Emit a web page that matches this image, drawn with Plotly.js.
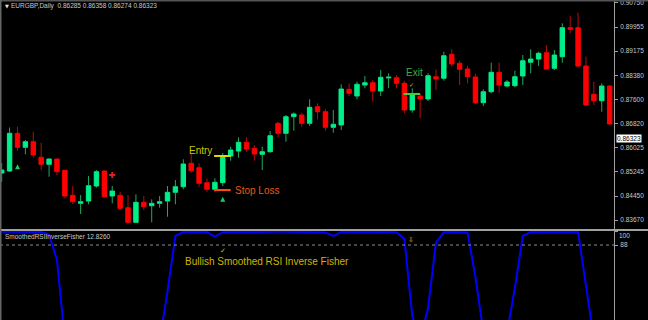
<!DOCTYPE html>
<html><head><meta charset="utf-8">
<script src="https://cdn.plot.ly/plotly-3.0.1.min.js"></script>
<style>html,body{margin:0;padding:0;background:#000;overflow:hidden}#chart{width:648px;height:320px}</style>
</head><body><div id="chart"></div>
<script>
// ---- data (EURGBP Daily) ----
const openP = [0.85202,0.85267,0.86495,0.86039,0.86221,0.85713,0.85485,0.85658,0.85290,0.84475,
0.84215,0.84289,0.84778,0.85267,0.84452,0.84475,0.84071,0.83596,0.84247,0.84136,
0.84215,0.84289,0.84573,0.84755,0.85518,0.85374,0.84886,0.84671,0.84886,0.85756,
0.85918,0.86202,0.86006,0.85811,0.85896,0.86821,0.86495,0.87036,0.87091,0.86821,
0.87362,0.87199,0.86691,0.86766,0.87929,0.87710,0.88069,0.88144,0.87873,0.88300,
0.88306,0.88124,0.87254,0.87710,0.87613,0.88339,0.88287,0.89069,0.88776,0.88590,
0.88329,0.87492,0.87850,0.88483,0.88036,0.88046,0.88362,0.88808,0.88916,0.89121,
0.88613,0.88991,0.89936,0.89936,0.88688,0.87766,0.87557,0.88036];
const highP = [0.85528,0.86684,0.86710,0.86277,0.86547,0.86189,0.85681,0.85674,0.85299,0.84778,
0.84485,0.85104,0.85299,0.85283,0.84778,0.84592,0.84485,0.84508,0.84452,0.84345,
0.84452,0.84778,0.84974,0.85648,0.85821,0.85518,0.85029,0.85029,0.85853,0.86059,
0.86365,0.86365,0.86114,0.86059,0.86570,0.86873,0.87091,0.87179,0.87166,0.87603,
0.87473,0.87277,0.87254,0.88092,0.88124,0.88176,0.88362,0.88232,0.88557,0.88450,
0.88394,0.88199,0.87961,0.87775,0.88450,0.88580,0.89154,0.89232,0.88860,0.88688,
0.88427,0.87929,0.88795,0.88795,0.88232,0.88535,0.89046,0.89232,0.89154,0.89372,
0.89209,0.90079,0.90327,0.90424,0.88991,0.88176,0.88124,0.88069];
const lowP = [0.84908,0.85234,0.85928,0.85811,0.85700,0.85299,0.85081,0.85137,0.84377,0.84192,
0.83866,0.84182,0.84723,0.84397,0.84215,0.83996,0.83563,0.83582,0.83996,0.83596,
0.84071,0.83778,0.84182,0.84671,0.85211,0.84755,0.84592,0.84592,0.84778,0.85602,
0.85700,0.85896,0.85602,0.85299,0.85863,0.86365,0.86221,0.86580,0.86710,0.86733,
0.86951,0.86580,0.86515,0.86603,0.87710,0.87603,0.87961,0.87525,0.87710,0.87961,
0.87961,0.87147,0.87166,0.86984,0.87547,0.87906,0.88209,0.88665,0.88069,0.88124,
0.87450,0.87385,0.87798,0.87818,0.87994,0.87994,0.88069,0.88450,0.88688,0.88580,
0.88557,0.88795,0.89753,0.88665,0.87385,0.87417,0.87199,0.86782];
const closeP = [0.85299,0.86495,0.86039,0.86221,0.85788,0.85485,0.85658,0.85244,0.84452,0.84267,
0.84267,0.84788,0.85244,0.84430,0.84615,0.84052,0.83596,0.84247,0.84104,0.84215,
0.84267,0.84573,0.84755,0.85495,0.85277,0.84866,0.84671,0.84899,0.85756,0.85951,
0.86202,0.85984,0.85821,0.85896,0.86417,0.86495,0.87036,0.87124,0.86821,0.87342,
0.87199,0.86691,0.86788,0.87938,0.87798,0.88092,0.88144,0.87873,0.88320,0.88329,
0.88124,0.87254,0.87775,0.87613,0.88372,0.88264,0.89023,0.88753,0.88580,0.88339,
0.87492,0.87850,0.88483,0.88069,0.88166,0.88339,0.88860,0.88916,0.89102,0.88590,
0.89046,0.89936,0.89883,0.88688,0.87417,0.87557,0.88036,0.86798];
const rsiIF = [99.7,99.8,99.8,99.7,99.8,99.6,97.3,74.7,3.5,1.2,
0.8,0.5,0.9,1.5,0.7,0.4,0.3,0.6,0.9,1.1,
2.0,47,96,99.6,99.8,99.7,99.5,95.5,99.4,99.7,
99.8,99.6,99.5,99.3,99.6,99.7,99.8,99.7,99.6,99.8,
99.7,99.2,96,99.5,99.8,99.7,99.8,99.6,99.8,99.7,
99.4,93.3,25,4,32,90,99.3,99.6,99.5,99.2,
59.5,11,3,2.5,10,50,96,99.5,99.7,99.6,
99.7,99.8,99.8,99.6,52,4,2,1.5];
const rsiLevels = [100, 88];
const rsiLevelLabels = ['100', '88'];
const priceTicks = [0.90750,0.89955,0.89175,0.88380,0.87600,0.86820,0.86025,0.85245,0.84450,0.83670];
const priceTickLabels = ['0.90750','0.89955','0.89175','0.88380','0.87600','0.86820','0.86025','0.85245','0.84450','0.83670'];
const symbolInfo = 'EURGBP,Daily  0.86285 0.86358 0.86274 0.86323';
const lastPrice = 0.86323;
const lastPriceLabel = '0.86323';
const indicatorName = 'SmoothedRSIInverseFisher 12.8260';
const signalIdx = [2, 14, 28];
const signalPrice = [0.85485, 0.85137, 0.84430];
const signalDir = ['up', 'down', 'up'];
const tradeLabels = ['Entry', 'Stop Loss', 'Exit'];
const tradePrice = [0.85756, 0.84648, 0.87775];
const tradeFrom = [26.9, 26.9, 50.9];
const tradeTo = [29.0, 29.0, 53.0];
const tradeLabelX = [23.5, 29.3, 51.0];
const tradeLabelY = [0.85951, 0.84648, 0.88460];
const noteText = 'Bullish Smoothed RSI Inverse Fisher';

// ---- build traces ----
const idx = openP.map((_, i) => i);
const UP = '#00ef8a', DN = '#ff0000', UPW = '#23a85e', DNW = '#b80c0c';
const isUp = idx.map(i => closeP[i] >= openP[i]);
const traces = [];

function wick(list) {
  const x = [], y = [];
  list.forEach(i => {
    const top = Math.max(openP[i], closeP[i]), bot = Math.min(openP[i], closeP[i]);
    x.push(i, i, null, i, i, null);
    y.push(highP[i], top, null, bot, lowP[i], null);
  });
  return {x, y};
}
const upList = idx.filter(i => isUp[i]), dnList = idx.filter(i => !isUp[i]);
[[upList, UPW], [dnList, DNW]].forEach(([lst, col]) => {
  const w = wick(lst);
  traces.push({type:'scatter', mode:'lines', x:w.x, y:w.y, xaxis:'x', yaxis:'y',
    line:{color:col, width:1}, hoverinfo:'skip', showlegend:false, connectgaps:false});
});
traces.push({type:'bar', x: idx, base: idx.map(i => Math.min(openP[i], closeP[i])),
  y: idx.map(i => Math.abs(closeP[i] - openP[i])), width: 0.56, xaxis:'x', yaxis:'y',
  marker:{color: idx.map(i => isUp[i] ? UP : DN), line:{width:1, color: idx.map(i => isUp[i] ? UP : DN)}},
  hoverinfo:'skip', showlegend:false});

// trade level lines
const tradeColors = ['#dcdc00', '#ff4a10', '#3ccf3c'];
tradeLabels.forEach((t, k) => {
  traces.push({type:'scatter', mode:'lines', x:[tradeFrom[k], tradeTo[k]], y:[tradePrice[k], tradePrice[k]],
    xaxis:'x', yaxis:'y', line:{color:tradeColors[k], width:2}, hoverinfo:'skip', showlegend:false});
});
// signal arrows
traces.push({type:'scatter', mode:'markers', x:signalIdx, y:signalPrice, xaxis:'x', yaxis:'y',
  marker:{symbol:signalDir.map(d => d === 'up' ? 'arrow-up' : 'cross'), size:5,
    color:signalDir.map(d => d === 'up' ? '#22c864' : '#e02020')}, hoverinfo:'skip', showlegend:false});

// indicator
traces.push({type:'scatter', mode:'lines', x: idx, y: rsiIF, xaxis:'x', yaxis:'y2',
  line:{color:'#0000ff', width:2}, hoverinfo:'skip', showlegend:false});

const W = 648, H = 320;
const px = v => v / W, py = v => 1 - v / H;
const tickFont = {family:'Liberation Sans, Arial, sans-serif', size:6.5, color:'#c8c8c8'};
const annFont = (c, s) => ({family:'Liberation Sans, Arial, sans-serif', size:s, color:c});

const annotations = [
  {xref:'paper', yref:'paper', x:px(2.5), y:py(5.8), text:'▼', showarrow:false, xanchor:'left', yanchor:'middle',
    font:{family:'DejaVu Sans', size:5, color:'#e0e0e0'}},
  {xref:'paper', yref:'paper', x:px(9), y:py(6), text:symbolInfo.replace('  ', '&nbsp;&nbsp;'), showarrow:false, xanchor:'left', yanchor:'middle', font:tickFont},
  {xref:'paper', yref:'paper', x:px(2.5), y:py(236), text:indicatorName, showarrow:false, xanchor:'left', yanchor:'middle', font:tickFont},
  {xref:'paper', yref:'paper', x:px(616.5), y:py(235), text:rsiLevelLabels[0], showarrow:false, xanchor:'left', yanchor:'middle', font:tickFont},
  {xref:'paper', yref:'y', x:px(615.5), y:lastPrice, text:lastPriceLabel, showarrow:false, xanchor:'left', yanchor:'middle',
    bgcolor:'#ffffff', borderpad:0, font:{family:'Liberation Sans, Arial, sans-serif', size:6.5, color:'#000000'}},
  {xref:'x', yref:'y', x:tradeLabelX[0], y:tradeLabelY[0], text:tradeLabels[0], showarrow:false, xanchor:'left', yanchor:'middle', font:annFont('#c8c800', 10)},
  {xref:'x', yref:'y', x:tradeLabelX[1], y:tradeLabelY[1], text:tradeLabels[1], showarrow:false, xanchor:'left', yanchor:'middle', font:annFont('#e85a10', 10)},
  {xref:'x', yref:'y', x:tradeLabelX[2], y:tradeLabelY[2], text:tradeLabels[2], showarrow:false, xanchor:'left', yanchor:'middle', font:annFont('#40a840', 10)},
  {xref:'x', yref:'y', x:51.9, y:0.88090, text:'✓', showarrow:false, xanchor:'center', yanchor:'middle', font:{family:'DejaVu Sans', size:6, color:'#d0c000'}},
  {xref:'x', yref:'y2', x:23.0, y:72.9, text:noteText, showarrow:false, xanchor:'left', yanchor:'middle', font:annFont('#d2b400', 10)},
  {xref:'x', yref:'y2', x:28.0, y:82.7, text:'✓', showarrow:false, xanchor:'center', yanchor:'middle', font:{family:'DejaVu Sans', size:7, color:'#d0c000'}},
  {xref:'x', yref:'y2', x:51.8, y:92.4, text:'⇩', showarrow:false, xanchor:'center', yanchor:'middle', font:{family:'DejaVu Sans', size:7, color:'#d0c000'}}
];

const shapes = [
  {type:'line', xref:'paper', yref:'y2', x0:0, x1:px(614), y0:rsiLevels[1], y1:rsiLevels[1], line:{color:'#8a8a8a', width:1, dash:'dot'}},
  {type:'line', xref:'paper', yref:'paper', x0:0, x1:1, y0:py(230), y1:py(230), line:{color:'#a0a0a0', width:2}},
  {type:'rect', xref:'paper', yref:'paper', x0:0, x1:1, y0:py(1.5), y1:1, fillcolor:'#555555', line:{width:0}},
  {type:'rect', xref:'paper', yref:'paper', x0:0, x1:px(1.5), y0:0, y1:1, fillcolor:'#666666', line:{width:0}}
];

const layout = {
  width: W, height: H, margin:{l:0, r:0, t:0, b:0}, paper_bgcolor:'#000', plot_bgcolor:'#000',
  showlegend:false, barmode:'overlay', bargap:0,
  xaxis:{domain:[0, 614/648], range:[-0.215, 77.55], visible:false, anchor:'y2', fixedrange:true},
  yaxis:{domain:[1 - 228.5/320, 1], range:[0.83394, 0.90838], side:'right', anchor:'x',
    tickmode:'array', tickvals:priceTicks, ticktext:priceTickLabels, ticks:'outside', ticklen:3,
    tickcolor:'#a0a0a0', showline:true, linecolor:'#a0a0a0', linewidth:1, showgrid:false, zeroline:false,
    tickfont:tickFont, ticklabelstandoff:1, ticklabeloverflow:'allow'},
  yaxis2:{domain:[0, 1 - 231/320], range:[21.33, 100.44], side:'right', anchor:'x',
    tickmode:'array', tickvals:rsiLevels, ticktext:['', rsiLevelLabels[1]], ticks:'outside', ticklen:3,
    tickcolor:'#a0a0a0', showline:true, linecolor:'#a0a0a0', linewidth:1, showgrid:false, zeroline:false,
    tickfont:tickFont, ticklabelstandoff:1, ticklabeloverflow:'allow'},
  annotations, shapes
};
Plotly.newPlot('chart', traces, layout, {staticPlot:true, displayModeBar:false});
</script></body></html>
